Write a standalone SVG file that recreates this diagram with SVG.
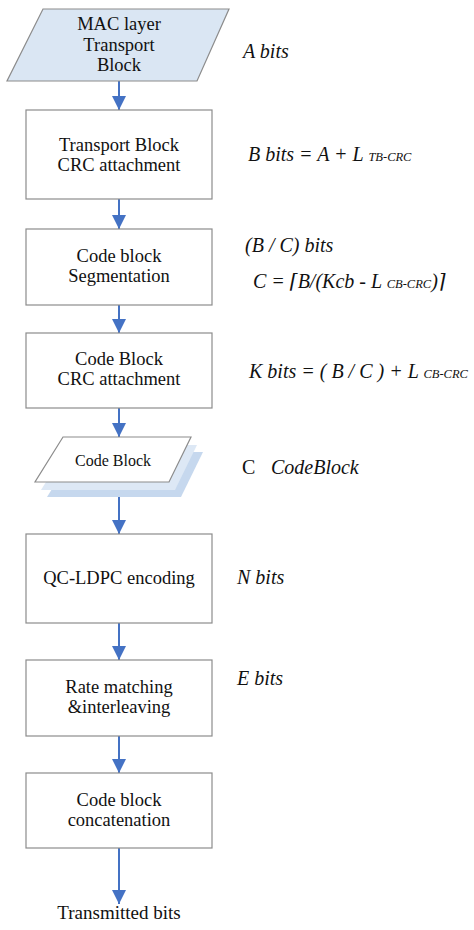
<svg xmlns="http://www.w3.org/2000/svg" width="474" height="930" viewBox="0 0 474 930">
<defs>
<style>
.box{fill:#ffffff;stroke:#8c8c8c;stroke-width:1.2}
.io{fill:#dae6f3;stroke:#8c8c8c;stroke-width:1.2}
text{font-family:'Liberation Serif','DejaVu Serif',serif}
.t{font-size:18.5px;fill:#111;text-anchor:middle}
.l{font-size:20px;font-style:italic;fill:#111}
.s{font-size:12.5px}
.c{stroke:#4472c4;stroke-width:2;fill:none}
</style>
<marker id="ah" markerUnits="userSpaceOnUse" markerWidth="14" markerHeight="14" viewBox="0 0 12 12" refX="12" refY="6" orient="auto">
<path d="M0,0 L12,6 L0,12 Z" fill="#4472c4"/>
</marker>
</defs>

<g id="connectors">
<line class="c" x1="119" y1="81" x2="119" y2="110" marker-end="url(#ah)"/>
<line class="c" x1="119" y1="199" x2="119" y2="229" marker-end="url(#ah)"/>
<line class="c" x1="119" y1="305" x2="119" y2="333" marker-end="url(#ah)"/>
<line class="c" x1="119" y1="408" x2="119" y2="437" marker-end="url(#ah)"/>
<line class="c" x1="119" y1="482" x2="119" y2="534" marker-end="url(#ah)"/>
<line class="c" x1="119" y1="623" x2="119" y2="660" marker-end="url(#ah)"/>
<line class="c" x1="119" y1="736" x2="119" y2="773" marker-end="url(#ah)"/>
<line class="c" x1="119" y1="848" x2="119" y2="904" marker-end="url(#ah)"/>
</g>

<g id="mac">
<polygon class="io" points="43,9 229,9 197,81 7,81"/>
<text class="t" x="119" y="30">MAC layer</text>
<text class="t" x="119" y="51">Transport</text>
<text class="t" x="119" y="71">Block</text>
</g>

<g id="tbcrc">
<rect class="box" x="26" y="110" width="186" height="89"/>
<text class="t" x="119" y="151">Transport Block</text>
<text class="t" x="119" y="171">CRC attachment</text>
</g>

<g id="seg">
<rect class="box" x="26" y="229" width="186" height="76"/>
<text class="t" x="119" y="262">Code block</text>
<text class="t" x="119" y="282">Segmentation</text>
</g>

<g id="cbcrc">
<rect class="box" x="26" y="333" width="186" height="75"/>
<text class="t" x="119" y="365">Code Block</text>
<text class="t" x="119" y="385">CRC attachment</text>
</g>

<g id="codeblock">
<polygon points="75,452 203,452 181,497 47,497" fill="#c6d8ee"/>
<polygon points="69,445 197,445 175,490 41,490" fill="#dde8f5"/>
<polygon class="box" points="63,437 191,437 169,482 35,482"/>
<text class="t" x="113" y="466" style="font-size:16px">Code Block</text>
</g>

<g id="ldpc">
<rect class="box" x="26" y="534" width="186" height="89"/>
<text class="t" x="119" y="584">QC-LDPC encoding</text>
</g>

<g id="rm">
<rect class="box" x="26" y="660" width="186" height="76"/>
<text class="t" x="119" y="693">Rate matching</text>
<text class="t" x="119" y="713">&amp;interleaving</text>
</g>

<g id="concat">
<rect class="box" x="26" y="773" width="186" height="75"/>
<text class="t" x="119" y="806">Code block</text>
<text class="t" x="119" y="826">concatenation</text>
</g>

<g id="out">
<text class="t" x="119" y="919" style="font-size:19px">Transmitted bits</text>
</g>

<g id="labels">
<text class="l" x="243" y="58">A bits</text>
<text class="l" x="248" y="161">B bits = A + L <tspan class="s">TB-CRC</tspan></text>
<text class="l" x="245" y="252">(B / C) bits</text>
<text class="l" x="253" y="288">C = ⌈B/(Kcb - L <tspan class="s">CB-CRC</tspan>)⌉</text>
<text class="l" x="249" y="378">K bits = ( B / C ) + L <tspan class="s">CB-CRC</tspan></text>
<text class="l" x="242" y="474"><tspan style="font-style:normal">C</tspan><tspan x="271">CodeBlock</tspan></text>
<text class="l" x="237" y="584">N bits</text>
<text class="l" x="237" y="685">E bits</text>
</g>
</svg>
